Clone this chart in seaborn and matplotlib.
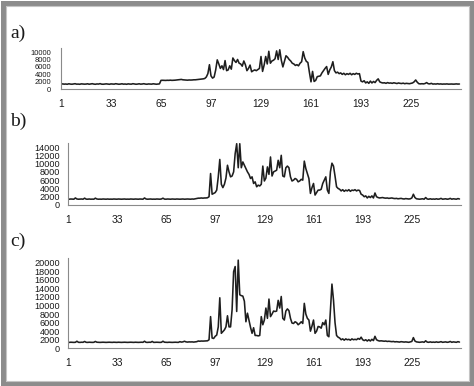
import matplotlib
matplotlib.use("Agg")
import matplotlib.pyplot as plt
import seaborn as sns
import pandas as pd
from matplotlib.patches import Rectangle

# ---------------- data ----------------
points = list(range(1, 257))
panel_labels = ["a)", "b)", "c)"]
x_tick_values = [1, 33, 65, 97, 129, 161, 193, 225]
x_tick_labels = ["1", "33", "65", "97", "129", "161", "193", "225"]
y_ticks_a = [0, 2000, 4000, 6000, 8000, 10000]
y_ticks_b = [0, 2000, 4000, 6000, 8000, 10000, 12000, 14000]
y_ticks_c = [0, 2000, 4000, 6000, 8000, 10000, 12000, 14000, 16000, 18000, 20000]

series_a = [
    1400, 1450, 1380, 1420, 1350, 1480, 1400, 1360, 1420, 1500, 1380, 1400, 1350, 1460, 1420, 1380,
    1400, 1480, 1360, 1420, 1500, 1400, 1350, 1440, 1400, 1520, 1380, 1360, 1420, 1460, 1400, 1350,
    1450, 1400, 1380, 1500, 1420, 1360, 1400, 1480, 1380, 1420, 1350, 1460, 1400, 1380, 1500, 1420,
    1360, 1400, 1480, 1380, 1420, 1500, 1400, 1360, 1440, 1400, 1380, 1480, 1420, 1360, 1400, 1450,
    2400, 2420, 2400, 2380, 2420, 2400, 2450, 2400, 2420, 2450, 2500, 2550, 2600, 2650, 2550, 2500,
    2480, 2450, 2500, 2480, 2500, 2550, 2550, 2600, 2650, 2700, 2750, 2800, 2900, 3300, 4200, 6600,
    3600, 3000, 3300, 5200, 7900, 6800, 5600, 6300, 5300, 7700, 5000, 5200, 6300, 5400, 8400, 7700,
    7200, 8000, 7000, 6800, 6200, 7600, 6600, 5000, 5600, 6500, 4700, 5000, 5200, 5000, 5300, 5600,
    8800, 4800, 6500, 8800, 6800, 10200, 7000, 7600, 7800, 8200, 10300, 8000, 10600, 7800, 6000, 7500,
    9000, 8600, 8000, 7600, 7000, 6800, 6400, 6600, 6300, 7000, 7400, 10100, 8400, 7500, 7200, 4500,
    2000, 4800, 2100, 2400, 3400, 3500, 3600, 4400, 5000, 5600, 6100, 4000, 5200, 6000, 7400, 5000,
    4400, 4600, 4200, 4400, 4000, 4300, 3900, 4200, 4000, 4300, 3900, 4200, 4000, 4300, 4100, 4200,
    2200, 2000, 2300, 1700, 2000, 1600, 2200, 1700, 2100, 1800, 2400, 2800, 2000, 1800, 1700, 1750,
    1600, 1800, 1650, 1700, 1600, 1750, 1650, 1550, 1700, 1600, 1550, 1650, 1500, 1600, 1550, 1500,
    1600, 1700, 2000, 2500, 1900, 1500, 1450, 1500, 1450, 1550, 1800, 1500, 1450, 1600, 1400, 1450,
    1400, 1500, 1400, 1450, 1380, 1420, 1400, 1450, 1380, 1400, 1420, 1380, 1400, 1450, 1400, 1420,
]

series_b = [
    1450, 1400, 1450, 1420, 1400, 1700, 1450, 1400, 1420, 1450, 1400, 1650, 1420, 1400, 1450, 1400,
    1420, 1400, 1650, 1450, 1400, 1420, 1400, 1450, 1420, 1400, 1450, 1400, 1420, 1400, 1450, 1420,
    1400, 1450, 1420, 1400, 1420, 1450, 1400, 1420, 1400, 1450, 1420, 1400, 1450, 1420, 1400, 1450,
    1420, 1400, 1700, 1450, 1400, 1420, 1450, 1400, 1420, 1400, 1450, 1420, 1400, 1450, 1650, 1420,
    1400, 1450, 1420, 1400, 1450, 1420, 1400, 1450, 1420, 1400, 1420, 1450, 1400, 1420, 1450, 1420,
    1400, 1450, 1420, 1500, 1600, 1650, 1650, 1700, 1650, 1700, 1700, 1750, 2000, 7600, 2600, 2800,
    3000, 3600, 6800, 11000, 5000, 4200, 5000, 6500, 9600, 8000, 6800, 7000, 8000, 12400, 14800, 9000,
    14800, 9000, 10400, 9600, 8800, 8000, 7400, 6400, 6800, 5200, 5600, 4400, 4800, 4600, 5000, 9400,
    5800, 6500, 9200, 7400, 11600, 7000, 8000, 8200, 8400, 10800, 9000, 12000, 7000, 6800, 9000, 9400,
    9000, 6800, 5800, 6000, 6400, 6200, 5600, 5800, 6200, 6000, 10600, 8800, 7600, 6400, 2800, 4200,
    5200, 2400, 3000, 3600, 3600, 3800, 5200, 6000, 6800, 3600, 2800, 8000, 10100, 9400, 7000, 4400,
    4000, 3800, 3400, 3700, 3300, 3600, 3400, 3700, 3300, 3600, 3500, 3700, 3400, 3600, 3500, 2600,
    2400, 2000, 2200, 1700, 2100, 1800, 2200, 1700, 2900, 2000, 1800, 1700, 1750, 1800, 1700, 1650,
    1700, 1600, 1650, 1700, 1600, 1550, 1600, 1500, 1550, 1600, 1500, 1450, 1550, 1500, 1450, 1500,
    1700, 2600, 1800, 1500, 1450, 1400, 1450, 1500, 1400, 1800, 1450, 1400, 1500, 1400, 1450, 1400,
    1500, 1400, 1450, 1600, 1400, 1450, 1500, 1400, 1450, 1600, 1400, 1500, 1450, 1400, 1550, 1450,
]

series_c = [
    1400, 1380, 1420, 1400, 1380, 1400, 1650, 1400, 1380, 1420, 1400, 1600, 1400, 1380, 1420, 1400,
    1380, 1400, 1600, 1420, 1400, 1380, 1400, 1420, 1400, 1380, 1400, 1420, 1400, 1380, 1420, 1400,
    1380, 1420, 1400, 1380, 1400, 1420, 1400, 1380, 1400, 1420, 1400, 1380, 1420, 1400, 1380, 1400,
    1420, 1400, 1650, 1400, 1380, 1420, 1400, 1600, 1380, 1400, 1420, 1400, 1380, 1400, 1650, 1420,
    1400, 1380, 1420, 1400, 1380, 1400, 1420, 1400, 1380, 1550, 1450, 1500, 1650, 1500, 1450, 1500,
    1480, 1500, 1450, 1500, 1550, 1700, 1650, 1700, 1680, 1700, 1700, 1750, 2000, 7400, 2400, 2300,
    2800, 3100, 5000, 11800, 3500, 3900, 4300, 5000, 7600, 5000, 5000, 9000, 17900, 19100, 8600, 20600,
    12500, 12300, 12200, 11000, 6200, 8200, 6500, 4900, 3500, 4800, 3000, 3000, 2900, 3000, 7400, 5500,
    6600, 9400, 7000, 11500, 7400, 8000, 8700, 8600, 8700, 11200, 9400, 12100, 7000, 6600, 8700, 9200,
    8800, 7000, 5900, 5800, 6200, 6000, 5500, 5800, 6200, 5800, 10500, 8000, 7000, 6600, 4000, 5200,
    6600, 3500, 4000, 5100, 5000, 4700, 6000, 5500, 6600, 3000, 2700, 9000, 15000, 11300, 6000, 3000,
    2600, 2400, 2000, 2200, 1900, 2200, 2000, 2100, 1900, 2200, 2000, 2100, 2000, 2300, 2100, 2600,
    2000, 1800, 2000, 1700, 2000, 1700, 2100, 1800, 2800, 2000, 1800, 1700, 1750, 1700, 1650, 1700,
    1600, 1650, 1600, 1550, 1600, 1500, 1550, 1500, 1450, 1550, 1500, 1450, 1500, 1450, 1400, 1500,
    1600, 2500, 1700, 1500, 1450, 1400, 1450, 1500, 1400, 1750, 1450, 1400, 1500, 1400, 1450, 1400,
    1500, 1400, 1450, 1550, 1400, 1450, 1500, 1400, 1450, 1600, 1400, 1500, 1450, 1400, 1550, 1450,
]

# ---------------- style ----------------
sns.set_style("white")
plt.rcParams["font.family"] = ["Liberation Sans", "DejaVu Sans"]

W, H = 474, 386
fig = plt.figure(figsize=(W / 100, H / 100), dpi=100)
fig.patch.set_facecolor("white")


def rect(left, right, top, bottom):
    return [left / W, 1 - bottom / H, (right - left) / W, (bottom - top) / H]


panels = [
    dict(series=series_a, pos=rect(61, 461, 48.3, 89.3), ylim=11000, yt=y_ticks_a, yfs=5.5,
         ypad=4.5, label_y=33),
    dict(series=series_b, pos=rect(67.7, 461, 142.9, 205), ylim=15000, yt=y_ticks_b, yfs=6.6,
         ypad=3.0, label_y=121),
    dict(series=series_c, pos=rect(67.7, 461, 258.4, 348.3), ylim=21000, yt=y_ticks_c, yfs=6.6,
         ypad=3.0, label_y=241),
]

axis_grey = "#8a8a8a"
all_ticks = list(range(1, 258, 8))

for lab, p in zip(panel_labels, panels):
    ax = fig.add_axes(p["pos"])
    df = pd.DataFrame({"point": points, "value": p["series"]})
    sns.lineplot(data=df, x="point", y="value", ax=ax, color="#1e1e1e", linewidth=1.15,
                 estimator=None, sort=False)
    ax.set_xlim(1, 256)
    ax.set_ylim(0, p["ylim"])
    ax.set_xlabel("")
    ax.set_ylabel("")
    ax.set_facecolor("white")
    for s in ["top", "right"]:
        ax.spines[s].set_visible(False)
    for s in ["left", "bottom"]:
        ax.spines[s].set_color(axis_grey)
        ax.spines[s].set_linewidth(0.8)
    ax.set_xticks(all_ticks)
    ax.set_xticklabels([x_tick_labels[x_tick_values.index(t)] if t in x_tick_values else ""
                        for t in all_ticks])
    ax.set_yticks(p["yt"])
    ax.set_yticklabels([str(v) for v in p["yt"]])
    ax.tick_params(axis="x", direction="out", length=3, width=0.7, color=axis_grey,
                   labelsize=7.4, pad=4.0, labelcolor="#1a1a1a")
    ax.tick_params(axis="y", direction="out", length=2.5, width=0.7, color=axis_grey,
                   labelsize=p["yfs"], pad=p["ypad"], labelcolor="#1a1a1a")
    fig.text(10 / W, 1 - p["label_y"] / H, lab, fontsize=14, family=["Liberation Serif"],
             ha="left", va="center", color="#1a1a1a")

# frame around the figure
fig.patches.append(Rectangle((2.5 / W, 2.5 / H), 1 - 5.0 / W, 1 - 5.0 / H, transform=fig.transFigure,
                             fill=False, edgecolor="#8c8c8c", linewidth=3.6, zorder=10))
fig.patches.append(Rectangle((5.5 / W, 5.5 / H), 1 - 11.0 / W, 1 - 11.0 / H, transform=fig.transFigure,
                             fill=False, edgecolor="#c4c4c4", linewidth=0.8, zorder=10))

fig.savefig("out.png", dpi=100, facecolor="white")
